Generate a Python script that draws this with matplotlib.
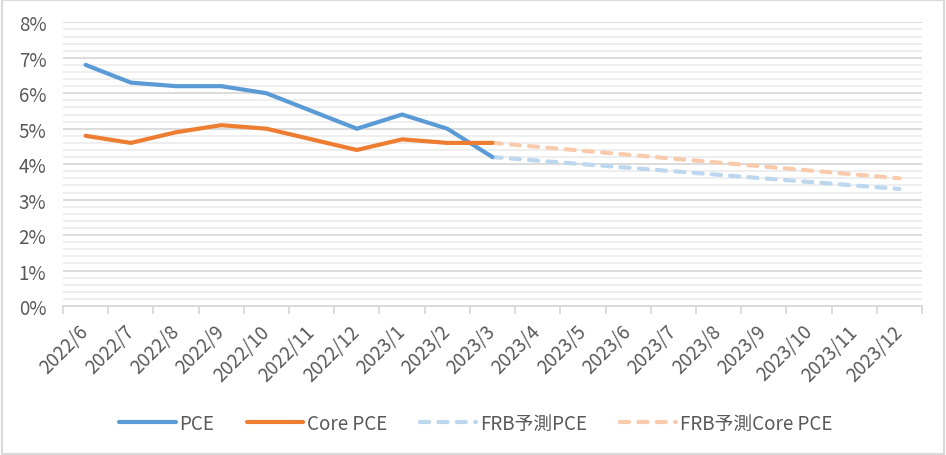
import matplotlib
matplotlib.use("Agg")
import matplotlib.pyplot as plt
from matplotlib.ticker import MultipleLocator, FuncFormatter
from matplotlib.patches import Rectangle

plt.rcParams['font.family'] = ['Noto Sans CJK JP', 'DejaVu Sans']

# month categories
months = ["2022/6", "2022/7", "2022/8", "2022/9", "2022/10", "2022/11", "2022/12",
          "2023/1", "2023/2", "2023/3", "2023/4", "2023/5", "2023/6", "2023/7",
          "2023/8", "2023/9", "2023/10", "2023/11", "2023/12"]

# actuals (%)
actual_months = months[:10]
pce = [6.8, 6.3, 6.2, 6.2, 6.0, 5.5, 5.0, 5.4, 5.0, 4.2]
core_pce = [4.8, 4.6, 4.9, 5.1, 5.0, 4.7, 4.4, 4.7, 4.6, 4.6]

# FRB projection, straight line from 2023/3 to 2023/12
fc_months = ["2023/3", "2023/12"]
frb_pce = [4.2, 3.3]
frb_core = [4.6, 3.6]

text_col = "#595959"
grid_major = "#D9D9D9"
grid_minor = "#EDEDED"

fig = plt.figure(figsize=(9.46, 4.56), dpi=100)
ax = fig.add_axes([0.0666, 0.3268, 0.908, 0.622])

pos = {m: i for i, m in enumerate(months)}
xa = [pos[m] for m in actual_months]
xf = [pos[m] for m in fc_months]

ax.plot(xf, frb_pce, color="#BDD7EE", lw=3, dashes=(2.2, 2.2), dash_capstyle="round",
        label="FRB予測PCE", zorder=3)
ax.plot(xf, frb_core, color="#F8CBAD", lw=3, dashes=(2.2, 2.2), dash_capstyle="round",
        label="FRB予測Core PCE", zorder=3)
ax.plot(xa, pce, color="#5B9BD5", lw=3, solid_capstyle="round", label="PCE", zorder=4)
ax.plot(xa, core_pce, color="#ED7D31", lw=3, solid_capstyle="round", label="Core PCE", zorder=4)

ax.set_xlim(-0.5, len(months) - 0.5)
ax.set_ylim(0, 8)
ax.yaxis.set_major_locator(MultipleLocator(1))
ax.yaxis.set_minor_locator(MultipleLocator(0.2))
ax.yaxis.set_major_formatter(FuncFormatter(lambda v, p: f"{v:.0f}%"))
ax.grid(which="major", axis="y", color=grid_major, lw=1.3, zorder=1)
ax.grid(which="minor", axis="y", color=grid_minor, lw=1.3, zorder=0)
ax.tick_params(axis="y", which="both", length=0, labelsize=13.5, labelcolor=text_col, pad=12)

# category boundaries as ticks, labels at centres
ax.set_xticks([i - 0.5 for i in range(len(months) + 1)])
ax.set_xticklabels([])
ax.set_xticks(range(len(months)), minor=True)
ax.set_xticklabels(months, minor=True, rotation=45, ha="right", va="center",
                   rotation_mode="anchor")
ax.tick_params(axis="x", which="major", length=6, color=grid_major, width=1.3)
ax.tick_params(axis="x", which="minor", length=0, labelsize=13.5, labelcolor=text_col, pad=16)

for s in ["top", "right", "left"]:
    ax.spines[s].set_visible(False)
ax.spines["bottom"].set_color(grid_major)
ax.spines["bottom"].set_linewidth(1.3)

handles, labels = ax.get_legend_handles_labels()
order = [2, 3, 0, 1]
fig.legend([handles[i] for i in order], [labels[i] for i in order],
           loc="center", bbox_to_anchor=(0.503, 0.07), ncol=4, frameon=False,
           handlelength=3.0, columnspacing=1.75, handletextpad=0.2,
           prop={"size": 13.5}, labelcolor=text_col)

fig.patches.append(Rectangle((0.002, 0.003), 0.996, 0.994, transform=fig.transFigure,
                             fill=False, edgecolor=grid_major, lw=1.5))

fig.savefig("out.png", dpi=100)
